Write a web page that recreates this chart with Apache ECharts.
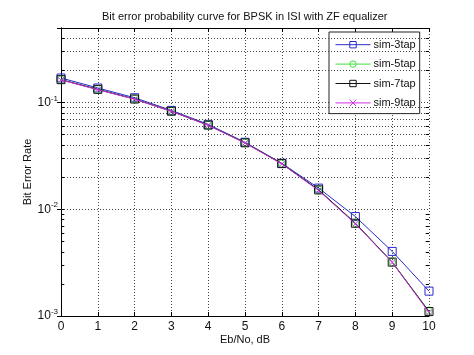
<!DOCTYPE html>
<html>
<head>
<meta charset="utf-8">
<script src="https://cdn.jsdelivr.net/npm/echarts@6/dist/echarts.min.js"></script>
<style>html,body{margin:0;padding:0;background:#fff;}#c{width:474px;height:355px;}</style>
</head>
<body>
<div id="c"></div>
<script>
var ebno = [0, 1, 2, 3, 4, 5, 6, 7, 8, 9, 10];
var ber3 = [0.170, 0.137, 0.111, 0.0845, 0.0625, 0.0425, 0.0270, 0.0158, 0.00855, 0.00403, 0.00171];
var ber5 = [0.164, 0.133, 0.108, 0.0830, 0.0615, 0.0420, 0.0268, 0.0152, 0.0074, 0.0032, 0.00111];
var ber7 = [0.164, 0.133, 0.108, 0.0830, 0.0615, 0.0420, 0.0268, 0.0152, 0.0074, 0.0032, 0.00110];
var ber9 = [0.163, 0.132, 0.1075, 0.0828, 0.0612, 0.0418, 0.0266, 0.0150, 0.0073, 0.00318, 0.00108];
var names = ['sim-3tap', 'sim-5tap', 'sim-7tap', 'sim-9tap'];
var yMin = 0.001, yMax = 0.5;

var FONT = '"Liberation Sans", Arial, sans-serif';
function pairs(ys) { return ebno.map(function (x, i) { return [x, ys[i]]; }); }

// minor grid values 2..9 x each decade within range
var minorVals = [];
for (var e = -3; e <= -1; e++) {
  for (var m = 2; m <= 9; m++) {
    var v = m * Math.pow(10, e);
    if (v < yMax - 1e-9) minorVals.push(+v.toPrecision(3));
  }
}
var gridLines = minorVals.map(function (v) { return { yAxis: v }; });
var tickSegs = [];
minorVals.forEach(function (v) {
  tickSegs.push([{ coord: [0, v] }, { coord: [0.09, v] }]);
  tickSegs.push([{ coord: [10, v] }, { coord: [9.91, v] }]);
});

var chart = echarts.init(document.getElementById('c'));
var dotted = { color: '#444', width: 1, type: [1, 2] };
var colors = ['#2a2ad0', '#40e040', '#111111', '#d030e0'];
var RECT = 'path://M0,0L10,0L10,10L0,10Z';
var CIRC = 'path://M5,0A5,5 0 1,1 5,10A5,5 0 1,1 5,0Z';
var CROSS = 'path://M0,0L10,10M10,0L0,10';
var symbols = [RECT, CIRC, RECT, CROSS];
var sizes = [8, [6, 8], 8, 5];
var sets = [ber3, ber5, ber7, ber9];

var series = sets.map(function (d, i) {
  return {
    name: names[i], type: 'line', data: pairs(d), z: 3 + i,
    symbol: symbols[i], symbolSize: sizes[i], showAllSymbol: true,
    lineStyle: { color: colors[i], width: 1 },
    itemStyle: { color: 'none', borderColor: colors[i], borderWidth: 1 },
    emphasis: { disabled: true },
    animation: false
  };
});
series.push({
  type: 'line', data: [], z: 1, silent: true, animation: false,
  markLine: {
    silent: true, symbol: 'none', animation: false,
    label: { show: false },
    lineStyle: dotted,
    data: gridLines
  }
});
series.push({
  type: 'line', data: [], z: 2, silent: true, animation: false,
  markLine: {
    silent: true, symbol: 'none', animation: false,
    label: { show: false },
    lineStyle: { color: '#000', width: 1, type: 'solid' },
    data: tickSegs
  }
});

chart.setOption({
  animation: false,
  backgroundColor: '#fff',
  title: {
    text: 'Bit error probability curve for BPSK in ISI with ZF equalizer',
    left: 97, top: 6,
    textStyle: { fontFamily: FONT, fontSize: 11, fontWeight: 'normal', color: '#111' }
  },
  grid: { left: 61, right: 45, top: 28, bottom: 39, containLabel: false },
  legend: {
    data: names, orient: 'vertical', left: 329, top: 32,
    backgroundColor: '#fff', borderColor: '#222', borderWidth: 1,
    padding: [7, 4, 5, 6], itemGap: 8, itemWidth: 35, itemHeight: 8,
    lineStyle: { width: 1 },
    itemStyle: { borderWidth: 1 },
    textStyle: { fontFamily: FONT, fontSize: 11, color: '#111', padding: [0, 0, 0, -2] },
    selectedMode: false
  },
  xAxis: [{
    type: 'value', min: 0, max: 10, interval: 1,
    name: 'Eb/No, dB', nameLocation: 'middle', nameGap: 18, nameMoveOverlap: false,
    nameTextStyle: { fontFamily: FONT, fontSize: 11, color: '#111' },
    axisLine: { lineStyle: { color: '#000', width: 1 } },
    axisTick: { inside: true, length: 4, lineStyle: { color: '#000' } },
    axisLabel: { fontFamily: FONT, fontSize: 12, color: '#111', margin: 5 },
    splitLine: { show: true, lineStyle: dotted }
  }, {
    type: 'value', min: 0, max: 10, interval: 1, position: 'top',
    axisLine: { show: true, lineStyle: { color: '#000', width: 1 } },
    axisTick: { show: true, inside: true, length: 4, lineStyle: { color: '#000' } },
    axisLabel: { show: false }, splitLine: { show: false }
  }],
  yAxis: [{
    type: 'log', logBase: 10, min: yMin, max: yMax,
    name: 'Bit Error Rate', nameLocation: 'middle', nameGap: 28, nameRotate: 90, nameMoveOverlap: false,
    nameTextStyle: { fontFamily: FONT, fontSize: 11, color: '#111' },
    axisLine: { show: true, lineStyle: { color: '#000', width: 1 } },
    axisTick: { show: true, inside: true, length: 4, lineStyle: { color: '#000' } },
    axisLabel: {
      fontFamily: FONT, color: '#111', margin: 3,
      formatter: function (val) {
        var l = Math.log10(val);
        if (Math.abs(l - Math.round(l)) > 1e-6) return '';
        return '{b|10}{s|' + Math.round(l) + '}';
      },
      rich: {
        b: { fontFamily: FONT, fontSize: 12, color: '#111' },
        s: { fontFamily: FONT, fontSize: 8, color: '#111', padding: [0, 0, 8, 0] }
      }
    },
    splitLine: { show: true, lineStyle: dotted }
  }, {
    type: 'log', logBase: 10, min: yMin, max: yMax, position: 'right',
    axisLine: { show: true, lineStyle: { color: '#000', width: 1 } },
    axisTick: { show: true, inside: true, length: 4, lineStyle: { color: '#000' } },
    axisLabel: { show: false }, splitLine: { show: false }
  }],
  series: series
});
</script>
</body>
</html>
